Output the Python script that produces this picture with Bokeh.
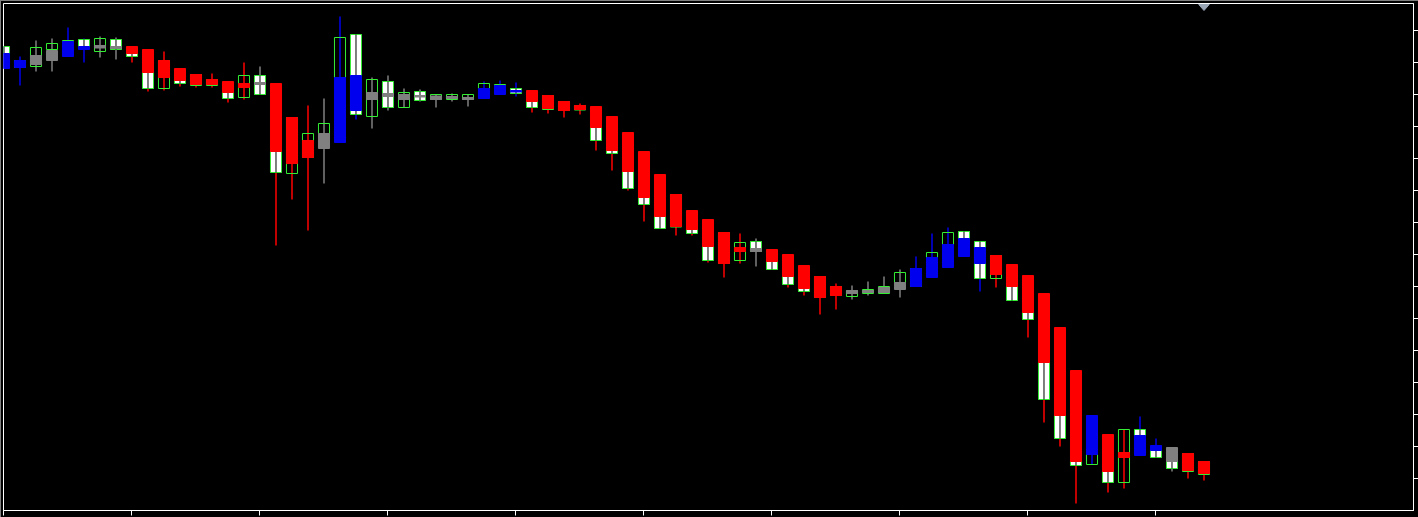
from bokeh.plotting import figure
from bokeh.models import Range1d, FixedTicker, LinearAxis, CustomJSTickFormatter, ColumnDataSource
from bokeh.embed import file_html
from bokeh.resources import INLINE

# ---- data (price units) ----
open_ = [457, 450, 463, 467, 470, 464, 472, 461, 454, 422, 450, 427, 436, 431, 412, 435, 416, 338, 393, 377,
         387, 473, 396, 431, 403, 418, 410, 416, 416, 416, 427, 426, 417, 403, 415, 409, 405, 370, 357, 322,
         306, 282, 316, 277, 250, 278, 268, 259, 241, 226, 219, 234, 224, 220, 221, 224, 238, 242, 258, 278,
         272, 232, 255, 210, 191, 111, 72, 45, 56, 28, 81, 75, 53, 42, 57, 49]
close = [464, 443, 444, 461, 469, 471, 459, 471, 457, 438, 422, 430, 425, 425, 418, 413, 435, 359, 337, 353,
         377, 433, 476, 394, 429, 403, 419, 411, 411, 411, 422, 425, 422, 409, 401, 400, 400.5, 383, 360, 339,
         313, 294, 283.5, 281, 264, 247, 250, 269, 249, 234, 222, 213, 215, 214, 217, 217, 228, 224, 253, 266,
         279, 269, 232, 224, 198, 148, 95, 49, 46, 39, 28, 81, 60, 49, 39, 36]
high = [464, 454, 470, 472, 483, 472, 474, 473, 464, 461, 459, 442, 436, 437, 429, 448, 444, 427, 393, 405,
        412, 494, 476, 433, 435, 422, 421, 416, 417, 416, 429, 430, 428, 420, 415, 409, 407, 404, 394, 378,
        359, 336, 316, 300, 291, 278, 277, 272, 261, 256, 245, 234, 227, 225, 229, 234, 241, 254, 277, 283,
        279, 269, 255, 246, 235, 217, 183, 140, 95, 76, 81, 94, 72, 63, 57, 49]
low = [442, 425, 439, 439, 454, 448, 453, 451, 448, 419, 420, 424, 423, 423, 408, 411, 416, 265, 311, 280,
       327, 368, 391, 382, 400, 403, 409, 403, 409, 404, 412, 416, 414, 398, 397, 393, 396, 360, 340, 320,
       289, 282, 275, 275, 248, 233, 247, 244, 241, 223, 215, 196, 201, 211, 215, 217, 213, 224, 233, 243,
       254, 219, 223, 210, 173, 88, 64, 7, 46, 18, 22, 55, 53, 39, 32, 30]
ov_hi = [457, 450, 455, 460, 469, 464, 465, 464, 464, 461, 450, 442, 436, 431, 429, 427, 428, 427, 393, 370,
         377, 433, 435, 418, 417, 416, 415, 414.5, 414, 413, 422, 425, 420, 420, 415, 409, 405, 404, 394, 378,
         359, 336, 316, 300, 291, 278, 263, 262, 261, 256, 245, 234, 224, 220, 220, 223, 228, 242, 253, 266,
         272, 263, 255, 246, 235, 217, 183, 140, 95, 76, 58, 75, 65, 63, 57, 49]
ov_lo = [442, 443, 446, 450, 454, 461, 462.5, 462, 457, 438, 433, 430, 426, 426, 418, 423, 426, 359, 347, 353,
         362, 368, 400, 411, 414, 411, 413.5, 411, 412, 411, 412, 416, 418.5, 409, 402, 400, 401, 383, 360, 339,
         313, 294, 284, 281, 264, 247, 259, 259, 249, 234, 222, 213, 215, 217, 218, 218, 221, 224, 233, 243,
         254, 247, 236, 224, 198, 148, 95, 49, 56, 39, 53, 55, 60, 49, 40, 37]
ov_state = ["B", "B", "G", "G", "B", "B", "G", "G", "R", "R", "R", "R", "R", "R", "R", "R", "G", "R", "R", "R",
            "G", "B", "B", "G", "G", "G", "G", "G", "G", "G", "B", "B", "B", "R", "R", "R", "R", "R", "R", "R",
            "R", "R", "R", "R", "R", "R", "R", "G", "R", "R", "R", "R", "R", "G", "G", "G", "G", "B", "B", "B",
            "B", "B", "R", "R", "R", "R", "R", "R", "B", "R", "R", "B", "B", "G", "R", "R"]
time_ticks = [0, 8, 16, 24, 32, 40, 48, 56, 64, 72]
price_ticks = [32, 64, 96, 128, 160, 192, 224, 256, 288, 320, 352, 384, 416, 448, 480]

# ---- styles ----
STATE_COLOR = {"R": "#ff0000", "B": "#0000ee", "G": "#808080"}
GREEN = "#33ee33"
BODY_W = 0.69

n = len(open_)
xs = list(range(n))
body_top = [max(o, c) for o, c in zip(open_, close)]
body_bot = [min(o, c) for o, c in zip(open_, close)]
bull = [c > o for o, c in zip(open_, close)]
colors = [STATE_COLOR[s] for s in ov_state]

src = ColumnDataSource(dict(x=xs, high=high, low=low, top=body_top, bot=body_bot,
                            fill=["#ffffff" if b else "#000000" for b in bull],
                            falpha=[1.0 if b else 0.0 for b in bull],
                            ovh=ov_hi, ovl=ov_lo, col=colors))
bull_src = ColumnDataSource(dict(x=[x for x, b in zip(xs, bull) if b],
                                 top=[t for t, b in zip(body_top, bull) if b],
                                 bot=[t for t, b in zip(body_bot, bull) if b]))

p = figure(width=1417, height=516, output_backend="svg", toolbar_location=None,
           x_range=Range1d(-0.03125, 88.094), y_range=Range1d(0, 507),
           background_fill_color="black", border_fill_color="black",
           min_border_left=2, min_border_top=2, min_border_right=5, min_border_bottom=7,
           x_axis_location=None, y_axis_location=None)
p.grid.visible = False
p.outline_line_color = "white"
p.outline_line_width = 1

# wicks
p.segment(x0="x", y0="low", x1="x", y1="high", color="col", line_width=1.5, source=src)
# candle bodies
p.vbar(x="x", top="top", bottom="bot", width=BODY_W, fill_color="fill", fill_alpha="falpha",
       line_color=GREEN, line_width=1, source=src)
# dark centre line in bull bodies
p.segment(x0="x", y0="bot", x1="x", y1="top", color="black", line_width=1, source=bull_src)
# indicator overlay bars
p.vbar(x="x", top="ovh", bottom="ovl", width=BODY_W, fill_color="col", line_color="col",
       line_width=1, source=src)

# chart-shift marker at the last bar
yt = p.y_range.end
p.patch(x=[n - 1 - 0.33, n - 1 + 0.33, n - 1], y=[yt - 1, yt - 1, yt - 7], color="#9aa5b5")

empty = CustomJSTickFormatter(code="return ''")
xa = LinearAxis(ticker=FixedTicker(ticks=time_ticks), formatter=empty)
ya = LinearAxis(ticker=FixedTicker(ticks=price_ticks), formatter=empty)
for ax in (xa, ya):
    ax.axis_line_color = "white"
    ax.major_tick_line_color = "white"
    ax.major_tick_out = 5
    ax.major_tick_in = 0
    ax.minor_tick_line_color = None
    ax.major_label_standoff = 0
    ax.major_label_text_font_size = "0px"
p.add_layout(xa, "below")
p.add_layout(ya, "right")

html = file_html(p, INLINE)
html = html.replace("<head>", "<head><style>html,body{margin:0;padding:0;background:#000;}"
                    "body{border-top:1px solid #7f7f7f;border-left:1px solid #7f7f7f;}</style>", 1)
open("out.html", "w").write(html)
